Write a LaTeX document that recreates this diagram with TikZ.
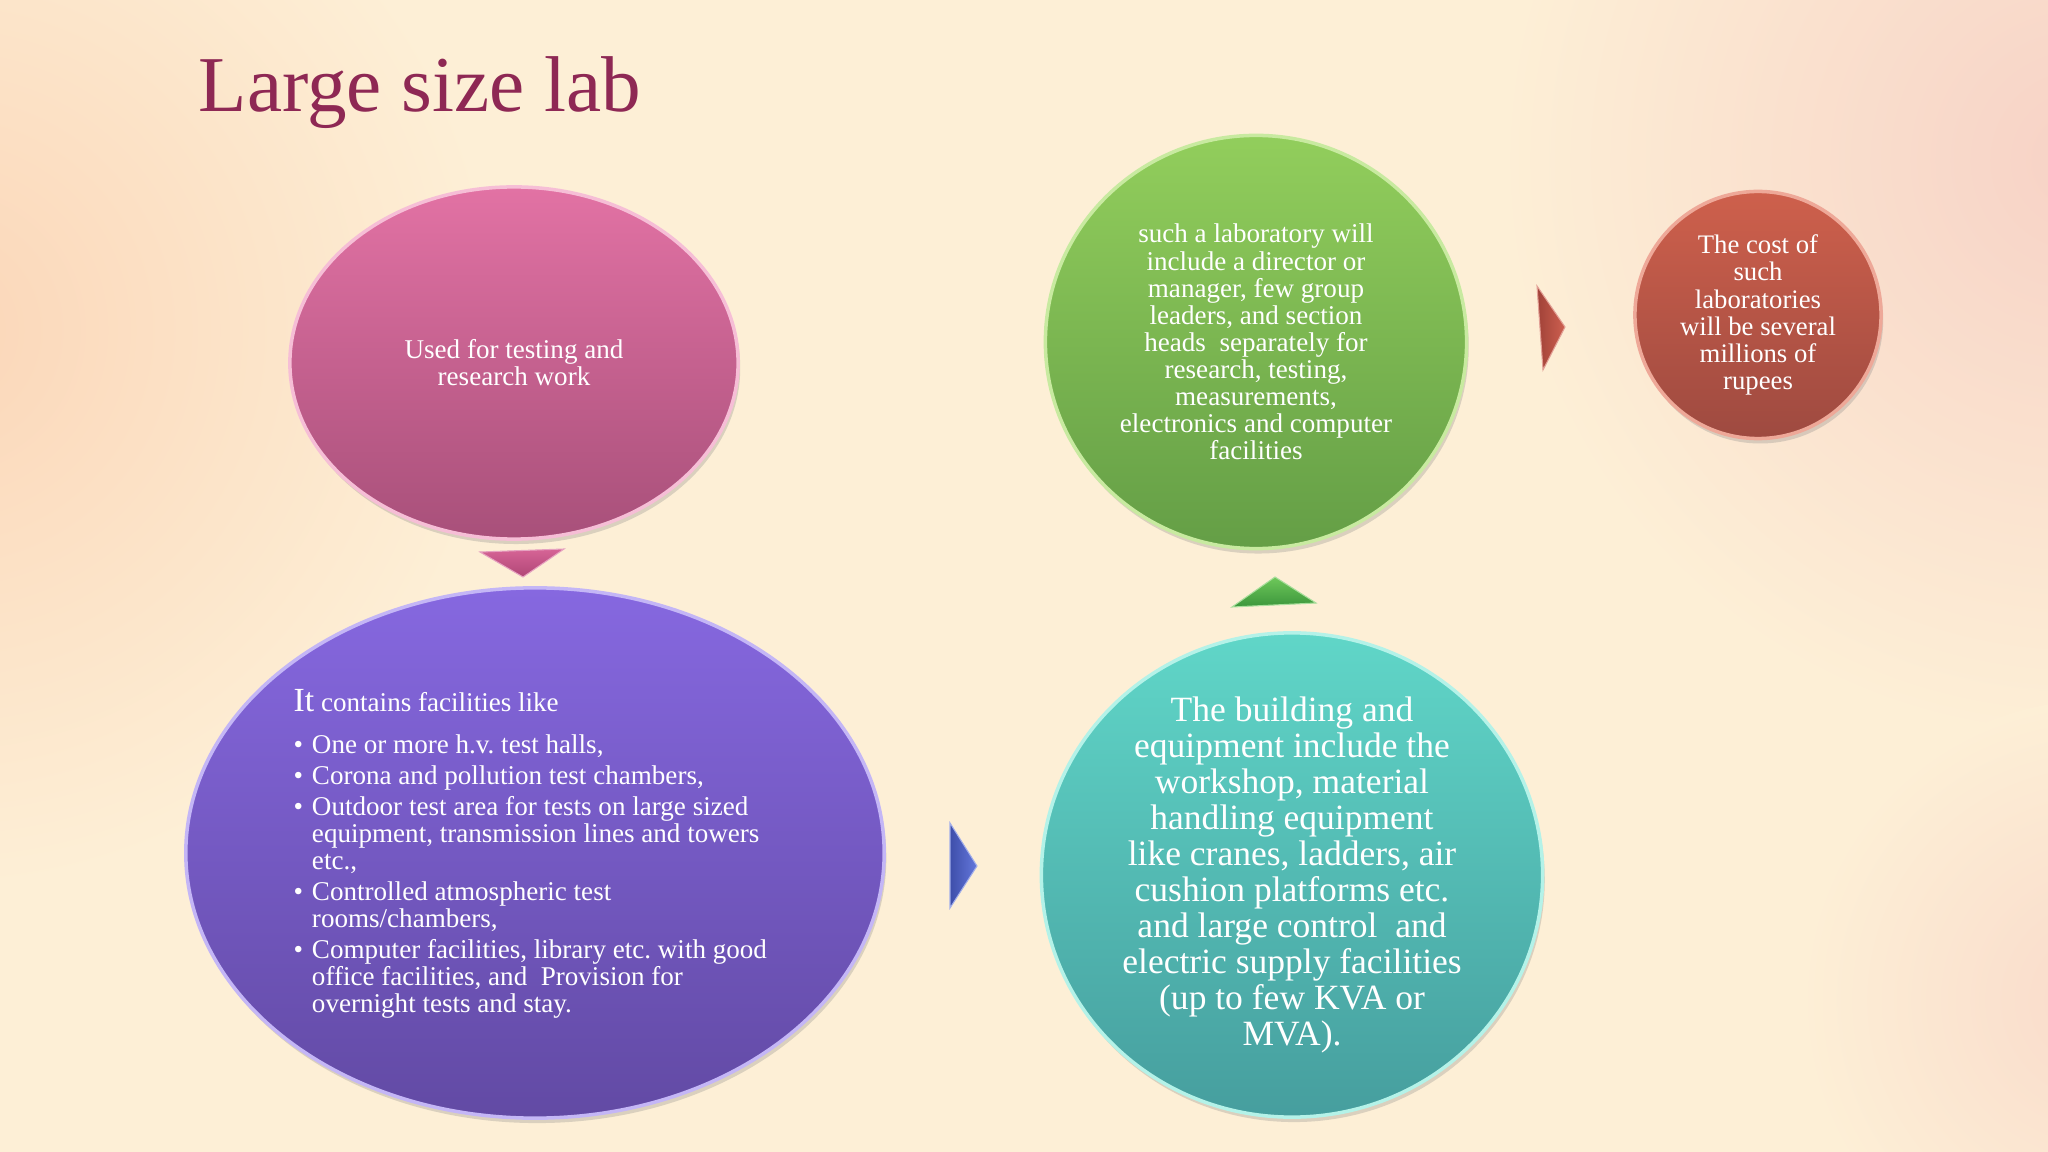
\documentclass[tikz,border=0pt]{standalone}
\usepackage{fontspec}
\setmainfont{Liberation Serif}
\usetikzlibrary{shapes.geometric,shadows}
\definecolor{bgcream}{RGB}{253,239,214}
\definecolor{bgpeach}{RGB}{251,214,184}
\definecolor{bgpink}{RGB}{247,210,198}
\definecolor{titlecol}{RGB}{142,40,84}
\definecolor{pinkT}{RGB}{226,114,164}
\definecolor{pinkB}{RGB}{168,80,122}
\definecolor{pinkR}{RGB}{246,190,214}
\definecolor{purpleT}{RGB}{134,104,224}
\definecolor{purpleB}{RGB}{98,74,164}
\definecolor{purpleR}{RGB}{196,182,246}
\definecolor{greenT}{RGB}{146,206,92}
\definecolor{greenB}{RGB}{100,158,70}
\definecolor{greenR}{RGB}{200,234,160}
\definecolor{tealT}{RGB}{96,214,200}
\definecolor{tealB}{RGB}{70,158,158}
\definecolor{tealR}{RGB}{180,242,232}
\definecolor{redT}{RGB}{206,96,76}
\definecolor{redB}{RGB}{158,74,64}
\definecolor{redR}{RGB}{238,168,152}
\definecolor{arrPink}{RGB}{214,100,150}
\definecolor{arrPinkD}{RGB}{176,70,118}
\definecolor{arrBlue}{RGB}{100,120,220}
\definecolor{arrBlueD}{RGB}{62,78,170}
\definecolor{arrGreen}{RGB}{110,200,90}
\definecolor{arrGreenD}{RGB}{60,150,60}
\definecolor{arrRed}{RGB}{206,96,80}
\definecolor{arrRedD}{RGB}{160,66,56}
\newcommand{\nl}{\hfil\break}
\newcommand{\pitem}[1]{\par\vspace{1.1pt}\hangindent=5.2pt\hangafter=1\noindent\makebox[5.2pt][l]{\textbullet}#1\par}
\tikzset{
  blob/.style={ellipse, inner sep=0pt, line width=1pt,
    drop shadow={opacity=0.28, shadow xshift=0.6pt, shadow yshift=-1.4pt}},
  pinkblob/.style={blob, top color=pinkT, bottom color=pinkB, draw=pinkR},
  purpleblob/.style={blob, top color=purpleT, bottom color=purpleB, draw=purpleR},
  greenblob/.style={blob, top color=greenT, bottom color=greenB, draw=greenR},
  tealblob/.style={blob, top color=tealT, bottom color=tealB, draw=tealR},
  redblob/.style={blob, top color=redT, bottom color=redB, draw=redR},
  txt/.style={text=white, align=center, inner sep=0pt},
  small/.style={font=\fontsize{7.7pt}{7.7pt}\selectfont},
  chev/.style={line width=0.3pt}
}
\begin{document}
\begin{tikzpicture}[x=0.01cm,y=-0.01cm]
\useasboundingbox (0,0) rectangle (2048,1152);
% background
\fill[bgcream] (0,0) rectangle (2048,1152);
\shade[inner color=bgpeach, outer color=bgcream] (-60,330) circle (560);
\shade[inner color=bgpink, outer color=bgcream] (2080,160) circle (580);
\shade[inner color=bgpink!70!bgcream, outer color=bgcream] (2100,1000) circle (300);

% title
\node[anchor=base west, inner sep=0pt, text=titlecol,
      font=\fontsize{22.5pt}{27pt}\selectfont] (title) at (198,112) {Large size lab};

% shapes
\node[pinkblob, minimum width=4.48cm, minimum height=3.52cm] (pink) at (514,363) {};
\node[purpleblob, minimum width=6.98cm, minimum height=5.30cm] (purple) at (535,853) {};
\node[tealblob, minimum width=5.01cm, minimum height=4.84cm] (teal) at (1292,875) {};
\node[greenblob, minimum width=4.21cm, minimum height=4.13cm] (green) at (1256,342) {};
\node[redblob, minimum width=2.46cm, minimum height=2.47cm] (red) at (1758,315) {};

% texts
\node[txt, small] (pinktext) at (pink.center) {Used for testing and\\research work};
\node[txt, small] (greentext) at (green.center) {such a laboratory will\\include a director or\\manager, few group\\leaders, and section\\heads\ \ separately for\\research, testing,\\measurements,\\electronics and computer\\facilities};
\node[txt, font=\fontsize{7.6pt}{7.7pt}\selectfont] (redtext) at (red.center) {The cost of\\such\\laboratories\\will be several\\millions of\\rupees};
\node[txt, font=\fontsize{10.1pt}{10.25pt}\selectfont] (tealtext) at (teal.center) {The building and\\equipment include the\\workshop, material\\handling equipment\\like cranes, ladders, air\\cushion platforms etc.\\and large control\ \ and\\electric supply facilities\\(up to few KVA or\\MVA).};
\node[text=white, inner sep=0pt, anchor=north west, text width=160pt,
      font=\fontsize{7.7pt}{7.7pt}\selectfont] (purpletext) at (293,689) {%
  \raggedright\spaceskip=0pt\xspaceskip=0pt\frenchspacing
  {\fontsize{9.6pt}{7.7pt}\selectfont It} contains facilities like\par\vspace{3.1pt}
  \pitem{One or more h.v. test halls,}
  \pitem{Corona and pollution test chambers,}
  \pitem{Outdoor test area for tests on large sized\nl equipment, transmission lines and towers\nl etc.,}
  \pitem{Controlled atmospheric test\nl rooms/chambers,}
  \pitem{Computer facilities, library etc. with good\nl office facilities, and\ \ Provision for\nl overnight tests and stay.}};

% chevrons
\shade[chev, top color=arrPink, bottom color=arrPinkD, draw=arrPink!60!white]
  (480,552) -- (564,549) -- (523,577) -- cycle;
\shade[chev, left color=arrBlueD, right color=arrBlue, draw=arrBlue!60!white]
  (950,823) -- (977,866) -- (950,908) -- cycle;
\shade[chev, top color=arrGreen, bottom color=arrGreenD, draw=arrGreen!60!white]
  (1275,577) -- (1316,603) -- (1232,607) -- cycle;
\shade[chev, left color=arrRedD, right color=arrRed, draw=arrRed!60!white]
  (1537,286) -- (1565,327) -- (1543,370) -- cycle;
\end{tikzpicture}
\end{document}
